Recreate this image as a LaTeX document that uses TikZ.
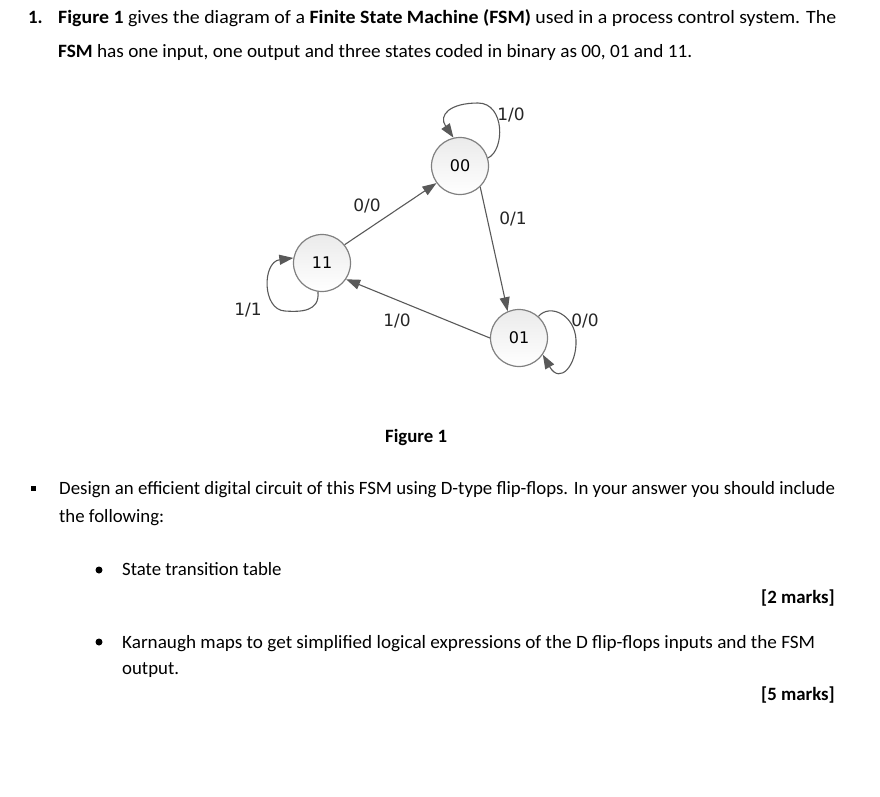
\documentclass[tikz,border=0pt]{standalone}
\usepackage{fontspec}
\setmainfont{Carlito}
\newfontfamily\diagfont{DejaVu Sans}
\usetikzlibrary{arrows.meta}
\newcommand{\fitw}[2]{\resizebox{#1}{\height}{#2}}
\begin{document}
\begin{tikzpicture}[x=1pt,y=-1pt,
  txt/.style={anchor=base west,inner sep=0pt,font=\fontsize{18.8}{22}\selectfont},
  txtr/.style={anchor=base east,inner sep=0pt,font=\fontsize{18.8}{22}\selectfont\bfseries},
  state/.style={circle,draw=black!50,line width=1.2pt,minimum size=57pt,inner sep=0pt,
    top color=black!8,bottom color=white,font=\fontsize{16}{18}\selectfont\diagfont},
  lbl/.style={inner sep=0pt,font=\fontsize{17}{19}\selectfont\diagfont,text=black!85},
  edge/.style={draw=black!65,line width=1.1pt,-{Triangle[length=14pt,width=10pt]}},
]
\useasboundingbox (0,0) rectangle (880,796);
% header text
\node[txt,font=\fontsize{18.8}{22}\selectfont\bfseries] (q1) at (28,23) {1.};
\node[txt] (l1) at (58,23) {\fitw{778pt}{\textbf{Figure 1} gives the diagram of a \textbf{Finite State Machine (FSM)} used in a process control system. The}};
\node[txt] (l2) at (58,57) {\fitw{634pt}{\textbf{FSM} has one input, one output and three states coded in binary as 00, 01 and 11.}};
% states
\node[state] (n00) at (460,166) {00};
\node[state] (n11) at (322,263) {11};
\node[state] (n01) at (519,338) {01};
% transitions
\draw[edge] (n11.39) -- (n00.216);
\draw[edge] (n00.-46) -- (n01.113);
\draw[edge] (n01.180) -- (n11.-34);
\draw[edge] (n00.16) .. controls (505,150) and (505,103) .. (478,103) .. controls (450,103) and (438,115) .. (n00.103);
\draw[edge] (n11.262) .. controls (320,312) and (300,312) .. (285,311) .. controls (262,310) and (262,262) .. (n11.170);
\draw[edge] (n01.48) .. controls (550,303) and (575,315) .. (576,340) .. controls (577,365) and (560,385) .. (n01.-35);
% labels
\node[lbl] (t1) at (511,115) {1/0};
\node[lbl] (t2) at (367,206) {0/0};
\node[lbl] (t3) at (513,219) {0/1};
\node[lbl] (t4) at (248,310) {1/1};
\node[lbl] (t5) at (397,321) {1/0};
\node[lbl] (t6) at (585,321) {0/0};
% caption
\node[txt,font=\fontsize{18.8}{22}\selectfont\bfseries] (cap) at (385,442) {Figure 1};
% question body
\node[fill=black,minimum size=5pt,inner sep=0pt] (b0) at (33,488) {};
\node[txt] (d1) at (59,494) {\fitw{776pt}{Design an efficient digital circuit of this FSM using D-type flip-flops. In your answer you should include}};
\node[txt] (d2) at (59,522) {the following:};
\node[circle,fill=black,minimum size=7pt,inner sep=0pt] (b1) at (99,570) {};
\node[txt] (s1) at (122,575) {State transition table};
\node[txtr] (m1) at (835,603) {[2 marks]};
\node[circle,fill=black,minimum size=7pt,inner sep=0pt] (b2) at (99,642) {};
\node[txt] (k1) at (122,648) {\fitw{693pt}{Karnaugh maps to get simplified logical expressions of the D flip-flops inputs and the FSM}};
\node[txt] (k2) at (122,674) {output.};
\node[txtr] (m2) at (835,700) {[5 marks]};
\end{tikzpicture}
\end{document}
